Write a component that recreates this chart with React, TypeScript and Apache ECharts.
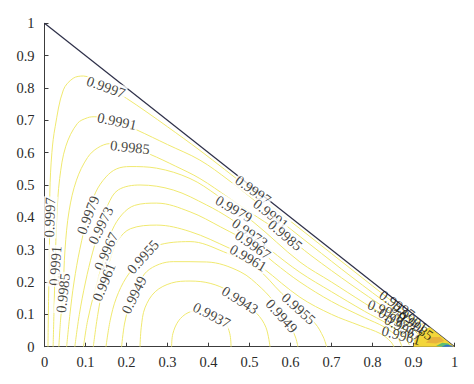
import React, { useEffect, useRef } from "react";
import * as echarts from "echarts";

const levels = ["0.9997", "0.9991", "0.9985", "0.9979", "0.9973", "0.9967", "0.9961", "0.9955", "0.9949", "0.9943", "0.9937"];

const c9997 = [[0.0085,0],[0.010,0.15],[0.012,0.3],[0.013,0.475],[0.018,0.6],[0.026,0.68],[0.046,0.794],[0.07,0.83],[0.095,0.837],[0.13,0.82],[0.165,0.795],[0.2,0.768],[0.25,0.725],[0.3,0.68],[0.379,0.607],[0.5,0.488],[0.6,0.388],[0.7,0.288],[0.8,0.188],[0.88,0.108],[0.93,0.06],[0.96,0.03],[0.98,0.01]];
const c9991 = [[0.021,0],[0.023,0.1],[0.026,0.25],[0.03,0.4],[0.037,0.52],[0.052,0.62],[0.08,0.69],[0.105,0.708],[0.123,0.711],[0.15,0.705],[0.18,0.695],[0.2256,0.67],[0.3,0.625],[0.379,0.577],[0.45,0.514],[0.552,0.412],[0.65,0.314],[0.75,0.215],[0.85,0.12],[0.9,0.075],[0.93,0.045],[0.95,0.02],[0.96,0.005]];
const c9985 = [[0.035,0],[0.039,0.08],[0.045,0.166],[0.05,0.3],[0.06,0.42],[0.078,0.515],[0.105,0.585],[0.13,0.615],[0.16,0.628],[0.2085,0.618],[0.2573,0.595],[0.32,0.558],[0.379,0.52],[0.45,0.46],[0.52,0.4],[0.587,0.345],[0.65,0.282],[0.75,0.19],[0.83,0.12],[0.88,0.075],[0.91,0.04],[0.925,0.01]];
const c9979 = [[0.054,0],[0.062,0.1],[0.072,0.2],[0.086,0.3],[0.106,0.407],[0.125,0.478],[0.15,0.525],[0.176,0.55],[0.2085,0.557],[0.2736,0.552],[0.355,0.52],[0.42,0.469],[0.462,0.426],[0.5085,0.3865],[0.623,0.262],[0.7,0.2],[0.78,0.135],[0.85,0.08],[0.89,0.04],[0.905,0.01]];
const c9973 = [[0.074,0],[0.085,0.1],[0.1,0.2],[0.117,0.29],[0.137,0.375],[0.155,0.44],[0.18,0.485],[0.233,0.5],[0.314,0.4845],[0.3956,0.438],[0.452,0.397],[0.501,0.352],[0.55,0.3],[0.623,0.23],[0.7,0.17],[0.78,0.11],[0.84,0.068],[0.875,0.035],[0.89,0.005]];
const c9967 = [[0.095,0],[0.105,0.08],[0.12,0.16],[0.135,0.23],[0.15,0.295],[0.165,0.36],[0.19,0.41],[0.22,0.437],[0.2736,0.444],[0.355,0.417],[0.43,0.37],[0.5085,0.3145],[0.56,0.26],[0.623,0.2],[0.7,0.14],[0.78,0.09],[0.83,0.06],[0.86,0.03],[0.872,0]];
const c9961 = [[0.119,0],[0.13,0.1],[0.145,0.2],[0.16,0.27],[0.18,0.33],[0.21,0.365],[0.2736,0.376],[0.355,0.356],[0.452,0.304],[0.497,0.275],[0.534,0.242],[0.623,0.153],[0.7,0.1],[0.77,0.065],[0.82,0.04],[0.845,0.015],[0.852,0]];
const c9955 = [[0.15,0],[0.16,0.08],[0.175,0.15],[0.2,0.215],[0.24,0.278],[0.2736,0.3125],[0.355,0.325],[0.436,0.294],[0.5176,0.242],[0.5785,0.165],[0.62,0.118],[0.66,0.072],[0.68,0.03],[0.688,0]];
const c9949 = [[0.188,0],[0.195,0.07],[0.205,0.12],[0.218,0.16],[0.232,0.2],[0.249,0.232],[0.28,0.255],[0.314,0.263],[0.3956,0.262],[0.477,0.232],[0.53,0.18],[0.565,0.13],[0.595,0.075],[0.612,0.03],[0.618,0]];
const c9943 = [[0.233,0],[0.236,0.06],[0.245,0.12],[0.27,0.17],[0.31,0.197],[0.355,0.203],[0.404,0.196],[0.45,0.172],[0.477,0.144],[0.5176,0.103],[0.54,0.06],[0.55,0]];
const c9937 = [[0.31,0],[0.313,0.04],[0.327,0.08],[0.35,0.105],[0.38,0.113],[0.41,0.1],[0.44,0.075],[0.452,0.04],[0.455,0]];

const contours = [c9997, c9991, c9985, c9979, c9973, c9967, c9961, c9955, c9949, c9943, c9937];

const diagonal = [[0, 1], [1, 0]];

// corner filled region
const fillMain = [[0.9,0],[0.903,0.02],[0.915,0.042],[0.935,0.058],[0.94,0.06],[1,0]];
const fillOrange = [[0.93,0.012],[0.945,0.03],[0.965,0.03],[0.975,0.018],[0.955,0.01]];
const fillGreen = [[0.955,0.002],[0.97,0.012],[0.985,0.01],[0.99,0.004],[0.975,0]];
const fillBlue = [[0.968,0],[0.98,0.006],[0.993,0.004],[0.997,0]];

// contour labels: text, x, y
const labelPoints = [
  ["0.9997", 0.15, 0.803], ["0.9991", 0.177, 0.697], ["0.9985", 0.2085, 0.617],
  ["0.9997", 0.0125, 0.4], ["0.9991", 0.026, 0.25], ["0.9985", 0.045, 0.166],
  ["0.9979", 0.106, 0.407], ["0.9973", 0.137, 0.375], ["0.9967", 0.15, 0.295],
  ["0.9961", 0.145, 0.2], ["0.9955", 0.24, 0.278], ["0.9949", 0.218, 0.16],
  ["0.9997", 0.509, 0.485], ["0.9991", 0.552, 0.41], ["0.9985", 0.587, 0.345],
  ["0.9979", 0.462, 0.426], ["0.9973", 0.501, 0.352], ["0.9967", 0.5085, 0.315],
  ["0.9961", 0.497, 0.275], ["0.9955", 0.62, 0.118], ["0.9949", 0.5785, 0.095],
  ["0.9943", 0.477, 0.144], ["0.9937", 0.408, 0.098],
  ["0.9997", 0.86, 0.13], ["0.9991", 0.89, 0.09], ["0.9985", 0.905, 0.065],
  ["0.9979", 0.835, 0.11], ["0.9973", 0.86, 0.08], ["0.9967", 0.875, 0.058],
  ["0.9961", 0.87, 0.035],
];
const labelAngles = [-20, -12, -6, 88, 86, 84, 69, 64, 66, 68, 48, 64, -35, -38, -40, -30, -35, -35, -30, -42, -48, -32, -27, -35, -35, -35, -22, -28, -28, -15];
const clusterStart = 23;

const FONT = "'Liberation Serif', 'Times New Roman', serif";

export default function App() {
  const ref = useRef<HTMLDivElement>(null);
  useEffect(() => {
    if (!ref.current) return;
    const chart = echarts.init(ref.current, null, { renderer: "svg" });
    const polySeries = (pts: number[][], color: string) => ({
      type: "custom",
      silent: true,
      z: 4,
      data: [[pts[0][0], pts[0][1]]],
      renderItem: (_p: any, api: any) => ({
        type: "polygon",
        shape: { points: pts.map((p) => api.coord(p)) },
        style: { fill: color, stroke: null },
      }),
    });
    const axisCommon = {
      type: "value",
      min: 0,
      max: 1,
      interval: 0.1,
      axisLine: { show: true, lineStyle: { color: "#3c3c3c", width: 1 } },
      axisTick: { show: true, inside: true, length: 4, lineStyle: { color: "#3c3c3c" } },
      splitLine: { show: false },
      axisLabel: {
        color: "#2a2a2a",
        fontFamily: FONT,
        fontSize: 14.5,
        showMinLabel: true,
        showMaxLabel: true,
        formatter: (v: number) => (v === 0 ? "0" : v === 1 ? "1" : v.toFixed(1)),
      },
    };
    chart.setOption({
      animation: false,
      backgroundColor: "#fff",
      grid: { left: 44.5, right: 19.5, top: 23.3, bottom: 37.3, outerBoundsMode: "none" },
      xAxis: { ...axisCommon, axisLabel: { ...axisCommon.axisLabel, margin: 8 } },
      yAxis: { ...axisCommon, axisLabel: { ...axisCommon.axisLabel, margin: 10 } },
      series: [
        ...contours.map((c, i) => ({
          type: "line",
          name: levels[i],
          data: c,
          smooth: 0.35,
          symbol: "none",
          silent: true,
          z: 2,
          lineStyle: { color: "#f0e970", width: 1 },
        })),
        {
          type: "line",
          data: diagonal,
          symbol: "none",
          silent: true,
          z: 3,
          lineStyle: { color: "#2d2f48", width: 1.2 },
        },
        polySeries(fillMain, "#f3d63a"),
        polySeries(fillOrange, "#e8b23c"),
        polySeries(fillGreen, "#5fbf72"),
        polySeries(fillBlue, "#2f6fd0"),
        {
          type: "scatter",
          symbol: "circle",
          symbolSize: 2,
          silent: true,
          z: 6,
          itemStyle: { color: "rgba(0,0,0,0)" },
          labelLayout: { hideOverlap: false },
          label: {
            show: true,
            position: "inside",
            fontFamily: FONT,
            fontSize: 14.5,
            color: "#111",
            backgroundColor: "#fff",
            padding: [0, 1],
          },
          data: labelPoints.map((l, i) => ({
            value: [l[1], l[2]],
            label: {
              show: true,
              formatter: l[0] as string,
              rotate: labelAngles[i],
              backgroundColor: i >= clusterStart ? "transparent" : "#fff",
            },
          })),
        },
      ],
    });
    return () => chart.dispose();
  }, []);
  return (
    <div
      ref={ref}
      style={{ position: "fixed", left: 0, top: 0, width: 474, height: 384, background: "#fff" }}
    />
  );
}
